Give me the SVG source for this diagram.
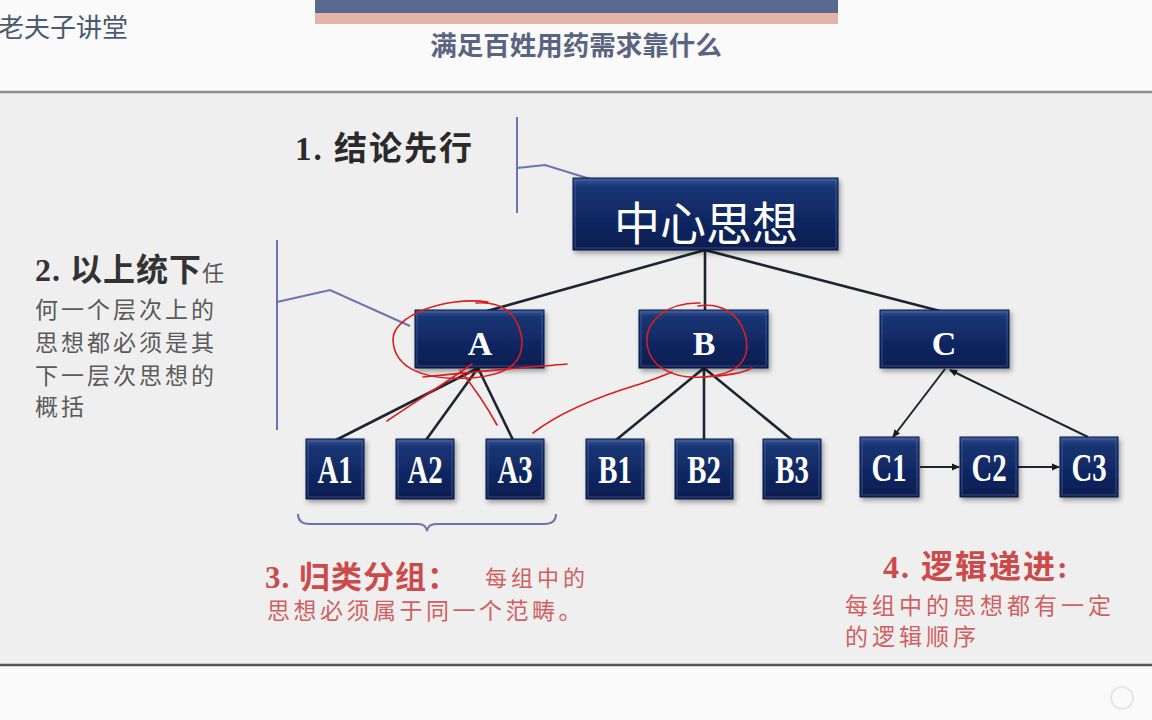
<svg xmlns="http://www.w3.org/2000/svg" width="1152" height="720" viewBox="0 0 1152 720">
<defs>
<linearGradient id="nodeGrad" x1="0" y1="0" x2="0" y2="1">
<stop offset="0" stop-color="#3a5796"/>
<stop offset="0.12" stop-color="#1a3574"/>
<stop offset="0.6" stop-color="#0f2762"/>
<stop offset="1" stop-color="#0a1c4e"/>
</linearGradient>
<filter id="shadow" x="-20%" y="-20%" width="150%" height="150%">
<feDropShadow dx="2" dy="3" stdDeviation="2.5" flood-color="#000" flood-opacity="0.35"/>
</filter>
<marker id="arrow" markerWidth="8" markerHeight="8" refX="7" refY="4" orient="auto" markerUnits="userSpaceOnUse">
<path d="M0,0.5 L8,4 L0,7.5 Z" fill="#1a1a1a"/>
</marker>
</defs>
<style>
.box{fill:url(#nodeGrad);stroke:#0a1a44;stroke-width:1;filter:url(#shadow)}
.bevel{fill:none;stroke:#5a78b8;stroke-width:1;stroke-opacity:0.5}
.lbl{fill:#ffffff;font-family:"Liberation Serif",serif;font-weight:bold;text-anchor:middle}
.cjk{font-family:"Noto Sans CJK SC",sans-serif}
.conn{stroke:#1f2530;stroke-width:2.6;fill:none}
.carr{stroke:#1f2530;stroke-width:2;fill:none;marker-end:url(#arrow)}
.brk{stroke:#6f72b0;stroke-width:2;fill:none}
.red{stroke:#d81e1e;stroke-width:1.6;fill:none;stroke-linecap:round;stroke-linejoin:round}
.note{font-family:"Liberation Serif","Noto Sans CJK SC",serif}
</style>
<rect x="0" y="0" width="1152" height="720" fill="#fafafa"/>
<rect x="0" y="93" width="1152" height="572" fill="#efefef"/>
<line x1="0" y1="92" x2="1152" y2="92" stroke="#8c8c8c" stroke-width="2.5"/>
<line x1="0" y1="665" x2="1152" y2="665" stroke="#555" stroke-width="2.5"/>
<rect x="315" y="0" width="523" height="13" fill="#5a6a8e"/>
<rect x="315" y="13" width="523" height="11" fill="#e3b4a8"/>
<text x="576" y="55" text-anchor="middle" class="cjk" font-size="26.5" font-weight="bold" fill="#5a6480">满足百姓用药需求靠什么</text>
<text x="-2" y="37" class="cjk" font-size="26" fill="#4b5a6e">老夫子讲堂</text>
<circle cx="1122" cy="698" r="11" fill="none" stroke="#e6e6e6" stroke-width="2"/>

<g id="brackets">
<polyline class="brk" points="517,117 517,213"/>
<polyline class="brk" points="517,168 545,165 600,182"/>
<polyline class="brk" points="277,240 277,430"/>
<polyline class="brk" points="277,302 330,290 410,326"/>
<path class="brk" d="M298,514 Q298,524 310,524 L418,524 Q426,524 427,531 Q428,524 436,524 L544,524 Q556,524 556,514" stroke="#6a7090"/>
</g>

<g id="connectors">
<line class="conn" x1="705" y1="250" x2="487" y2="311"/>
<line class="conn" x1="705" y1="250" x2="705" y2="311"/>
<line class="conn" x1="705" y1="250" x2="940" y2="311"/>
<line class="conn" x1="478" y1="368" x2="336" y2="440"/>
<line class="conn" x1="478" y1="368" x2="426" y2="440"/>
<line class="conn" x1="478" y1="368" x2="513" y2="440"/>
<line class="conn" x1="704" y1="368" x2="616" y2="440"/>
<line class="conn" x1="704" y1="368" x2="704" y2="440"/>
<line class="conn" x1="704" y1="368" x2="792" y2="440"/>
<line class="carr" x1="945" y1="369" x2="893" y2="437"/>
<line class="carr" x1="1088" y1="437" x2="950" y2="370"/>
<line class="carr" x1="920" y1="467" x2="959" y2="467"/>
<line class="carr" x1="1018" y1="467" x2="1059" y2="467"/>
</g>

<g id="node-center">
<rect class="box" x="573" y="178" width="265" height="72"/>
<rect class="bevel" x="575" y="180" width="261" height="68"/>
<text x="706" y="240" class="cjk" font-size="46" fill="#fff" text-anchor="middle">中心思想</text>
</g>
<g id="node-A"><rect class="box" x="415" y="310" width="129" height="58"/><rect class="bevel" x="417" y="312" width="125" height="54"/><text class="lbl" x="480" y="355" font-size="34">A</text></g>
<g id="node-B"><rect class="box" x="639" y="310" width="129" height="58"/><rect class="bevel" x="641" y="312" width="125" height="54"/><text class="lbl" x="704" y="355" font-size="34">B</text></g>
<g id="node-C"><rect class="box" x="880" y="310" width="129" height="58"/><rect class="bevel" x="882" y="312" width="125" height="54"/><text class="lbl" x="944" y="355" font-size="34">C</text></g>

<g id="node-A1"><rect class="box" x="306" y="439" width="58" height="60"/><rect class="bevel" x="308" y="441" width="54" height="56"/><text class="lbl" font-size="40" transform="translate(335,483) scale(0.72,1)">A1</text></g>
<g id="node-A2"><rect class="box" x="396" y="439" width="58" height="60"/><rect class="bevel" x="398" y="441" width="54" height="56"/><text class="lbl" font-size="40" transform="translate(425,483) scale(0.72,1)">A2</text></g>
<g id="node-A3"><rect class="box" x="486" y="439" width="58" height="60"/><rect class="bevel" x="488" y="441" width="54" height="56"/><text class="lbl" font-size="40" transform="translate(515,483) scale(0.72,1)">A3</text></g>
<g id="node-B1"><rect class="box" x="586" y="439" width="58" height="60"/><rect class="bevel" x="588" y="441" width="54" height="56"/><text class="lbl" font-size="40" transform="translate(615,483) scale(0.72,1)">B1</text></g>
<g id="node-B2"><rect class="box" x="675" y="439" width="58" height="60"/><rect class="bevel" x="677" y="441" width="54" height="56"/><text class="lbl" font-size="40" transform="translate(704,483) scale(0.72,1)">B2</text></g>
<g id="node-B3"><rect class="box" x="763" y="439" width="58" height="60"/><rect class="bevel" x="765" y="441" width="54" height="56"/><text class="lbl" font-size="40" transform="translate(792,483) scale(0.72,1)">B3</text></g>
<g id="node-C1"><rect class="box" x="860" y="437" width="59" height="60"/><rect class="bevel" x="862" y="439" width="55" height="56"/><text class="lbl" font-size="40" transform="translate(889,481) scale(0.72,1)">C1</text></g>
<g id="node-C2"><rect class="box" x="960" y="437" width="58" height="60"/><rect class="bevel" x="962" y="439" width="54" height="56"/><text class="lbl" font-size="40" transform="translate(989,481) scale(0.72,1)">C2</text></g>
<g id="node-C3"><rect class="box" x="1060" y="437" width="58" height="60"/><rect class="bevel" x="1062" y="439" width="54" height="56"/><text class="lbl" font-size="40" transform="translate(1089,481) scale(0.72,1)">C3</text></g>

<g id="notes">
<text class="note" x="295" y="160" font-size="33" font-weight="bold" fill="#2a2a2a" letter-spacing="2">1. 结论先行</text>
<text class="note" x="35" y="281" font-size="32" font-weight="bold" fill="#333" letter-spacing="1">2. 以上统下<tspan font-size="22" font-weight="normal" fill="#555">任</tspan></text>
<text class="cjk" font-size="23" fill="#5a5a5a">
<tspan x="35" y="318" letter-spacing="3">何一个层次上的</tspan>
<tspan x="35" y="351" letter-spacing="3">思想都必须是其</tspan>
<tspan x="35" y="384" letter-spacing="3">下一层次思想的</tspan>
<tspan x="35" y="415" letter-spacing="3">概括</tspan>
</text>
<text class="note" x="265" y="588" font-size="31" font-weight="bold" fill="#cc4a4a" letter-spacing="1">3. 归类分组：</text>
<text class="cjk" x="485" y="586" font-size="22" fill="#d06060" letter-spacing="4">每组中的</text>
<text class="cjk" x="267" y="619" font-size="23" fill="#d06060" letter-spacing="3.5">思想必须属于同一个范畴。</text>
<text class="note" x="883" y="578" font-size="32" font-weight="bold" fill="#cc4a4a" letter-spacing="2">4. 逻辑递进:</text>
<text class="cjk" x="845" y="614" font-size="23" fill="#d06060" letter-spacing="4">每组中的思想都有一定</text>
<text class="cjk" x="845" y="645" font-size="23" fill="#d06060" letter-spacing="4">的逻辑顺序</text>
</g>

<g id="annotations">
<path class="red" d="M488,302 C445,296 392,316 393,340 C394,366 420,381 470,378 C512,375 526,360 521,334 C516,312 500,301 476,303"/>
<path class="red" d="M423,377 C470,372 520,368 567,364"/>
<path class="red" d="M472,364 C450,380 415,402 387,421"/>
<path class="red" d="M460,370 C472,385 486,405 497,425"/>
<path class="red" d="M700,303 C668,302 645,321 647,343 C649,366 672,379 702,377 C738,375 752,360 745,334 C739,314 721,302 698,306"/>
<path class="red" d="M702,377 C725,376 742,374 752,368"/>
<path class="red" d="M533,433 C560,412 600,396 640,384 C655,379 665,375 672,372"/>
</g>
</svg>
